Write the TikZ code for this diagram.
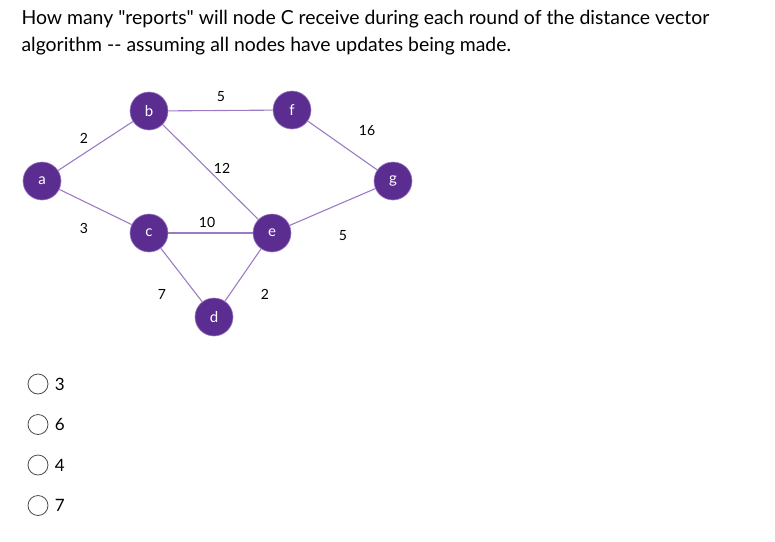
\documentclass[tikz,border=0pt]{standalone}
\usepackage{fontspec}
\setmainfont[Ligatures=TeXOff]{Lato}
\usetikzlibrary{positioning}
\definecolor{nodepurple}{HTML}{5C2D91}
\definecolor{edgepurple}{HTML}{9B7CC4}
\tikzset{
  vertex/.style={circle,fill=nodepurple,draw=edgepurple,line width=0.6pt,minimum size=38pt,inner sep=0pt,text=white,font=\fontsize{15}{17}\selectfont},
  link/.style={edgepurple,line width=1.1pt},
  weight/.style={font=\fontsize{14}{16}\selectfont},
  choice/.style={circle,draw=black!70,line width=0.8pt,minimum size=20pt,inner sep=0pt}
}
\begin{document}
\begin{tikzpicture}[x=1pt,y=-1pt]
  \useasboundingbox (0,0) rectangle (775,541);
  % question
  \node[anchor=west,font=\fontsize{19.4}{22}\selectfont] (q1) at (18,19) {How many "reports" will node C receive during each round of the distance vector};
  \node[anchor=west,font=\fontsize{19.4}{22}\selectfont] (q2) at (18,46) {algorithm -- assuming all nodes have updates being made.};

  % graph
  \node[vertex] (a) at (42,181) {a};
  \node[vertex] (b) at (149,111) {b};
  \node[vertex] (f) at (292,110) {f};
  \node[vertex] (g) at (393,181) {g};
  \node[vertex] (c) at (149,233) {c};
  \node[vertex] (e) at (272,233) {e};
  \node[vertex] (d) at (214,317) {d};

  \draw[link] (a) -- (b);
  \draw[link] (a) -- (c);
  \draw[link] (b) -- (f);
  \draw[link] (b) -- (e);
  \draw[link] (f) -- (g);
  \draw[link] (c) -- (e);
  \draw[link] (e) -- (g);
  \draw[link] (c) -- (d);
  \draw[link] (e) -- (d);

  \node[weight] (wab) at (84,138) {2};
  \node[weight] (wac) at (84,228) {3};
  \node[weight] (wbf) at (221,97) {5};
  \node[weight] (wbe) at (222,168) {12};
  \node[weight] (wfg) at (367,131) {16};
  \node[weight] (wce) at (207,222) {10};
  \node[weight] (weg) at (343,236) {5};
  \node[weight] (wcd) at (162,294) {7};
  \node[weight] (wed) at (265,294) {2};

  % answers
  \foreach \v [count=\i] in {3,6,4,7} {
    \node[choice] (o\i) at (38,{384+40.5*(\i-1)}) {};
    \node[anchor=west,font=\fontsize{17}{20}\selectfont,right=3pt of o\i] (t\i) {\v};
  }
\end{tikzpicture}
\end{document}
